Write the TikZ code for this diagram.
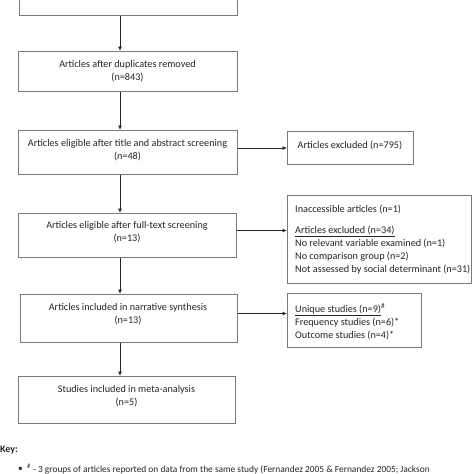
\documentclass[tikz,border=0pt]{standalone}
\usepackage{fontspec}
\setmainfont{Carlito}
\usetikzlibrary{arrows.meta}
\definecolor{txtc}{HTML}{262626}
\definecolor{boxc}{HTML}{7A7A7A}
\begin{document}
\begin{tikzpicture}[x=1pt,y=-1pt,
  every node/.style={font=\fontsize{10.2}{13}\selectfont, text=txtc},
  flowbox/.style={draw=boxc, line width=1pt, anchor=north west, inner sep=0pt},
  ctext/.style={align=center, inner sep=0pt},
  ltext/.style={anchor=base west, inner sep=0pt},
  arr/.style={draw=black!85, line width=0.8pt, -{Latex[length=4.5pt,width=4pt]}}]
\useasboundingbox (0,0) rectangle (474,474);
\fill[white] (0,0) rectangle (474,474);
\coordinate (ax) at (120,0);
% boxes
\node[flowbox, minimum width=218pt, minimum height=45pt] (b1) at (19,-30) {};
\node[flowbox, minimum width=219pt, minimum height=40pt] (b2) at (18,51) {};
\node[flowbox, minimum width=219pt, minimum height=44pt] (b3) at (18,130) {};
\node[flowbox, minimum width=218pt, minimum height=44pt] (b4) at (18,213) {};
\node[flowbox, minimum width=217pt, minimum height=48pt] (b5) at (20,294) {};
\node[flowbox, minimum width=217pt, minimum height=47pt] (b6) at (18,376) {};
\node[flowbox, minimum width=126pt, minimum height=33pt] (e1) at (287,131) {};
\node[flowbox, minimum width=184pt, minimum height=88pt] (e2) at (287,195) {};
\node[flowbox, minimum width=134pt, minimum height=54pt] (e3) at (287,293) {};
% texts
\node[ctext] (b2t) at (127.5,71) {Articles after duplicates removed\\(n=843)};
\node[ctext] (b3t) at (127.5,150.5) {Articles eligible after title and abstract screening\\(n=48)};
\node[ctext] (b4t) at (127,232.5) {Articles eligible after full-text screening\\(n=13)};
\node[ctext] (b5t) at (128,314.5) {Articles included in narrative synthesis\\(n=13)};
\node[ctext] (b6t) at (126.5,396.5) {Studies included in meta-analysis\\(n=5)};
\node[ctext] (e1t) at (350,145.5) {Articles excluded (n=795)};
\node[ltext] (e2a) at (295,212.5) {Inaccessible articles (n=1)};
\node[ltext] (e2b) at (295,233.5) {\underline{Articles excluded (n=34)}};
\node[ltext] (e2c) at (295,246.5) {No relevant variable examined (n=1)};
\node[ltext] (e2d) at (295,259.5) {No comparison group (n=2)};
\node[ltext] (e2e) at (295,272.5) {Not assessed by social determinant (n=31)};
\node[ltext] (e3a) at (295,312.5) {\underline{Unique studies (n=9)}\textsuperscript{\#}};
\node[ltext] (e3b) at (295,325.5) {Frequency studies (n=6)*};
\node[ltext] (e3c) at (295,338.5) {Outcome studies (n=4)*};
% connectors
\draw[arr] (b1.south -| ax) -- (b2.north -| ax);
\draw[arr] (b2.south -| ax) -- (b3.north -| ax);
\draw[arr] (b3.south -| ax) -- (b4.north -| ax);
\draw[arr] (b4.south -| ax) -- (b5.north -| ax);
\draw[arr] (b5.south -| ax) -- (b6.north -| ax);
\draw[arr] (e1.west -| b3.east) -- (e1.west);
\draw[arr] ([yshift=5pt]b4.east) -- ([yshift=5pt]b4.east -| e2.west);
\draw[arr] ([yshift=5pt]b5.east) -- ([yshift=5pt]b5.east -| e3.west);
% key
\node[anchor=west, inner sep=0pt, font=\fontsize{10}{13}\selectfont\bfseries] (key) at (0,450) {Key:};
\node[anchor=west, inner sep=0pt, font=\fontsize{9.4}{13}\selectfont] (bul) at (18,469) {\textbullet};
\node[anchor=west, inner sep=0pt, font=\fontsize{9.4}{13}\selectfont] (k1) at (27,469) {\textsuperscript{\#} - 3 groups of articles reported on data from the same study (Fernandez 2005 \& Fernandez 2005; Jackson};
\end{tikzpicture}
\end{document}
